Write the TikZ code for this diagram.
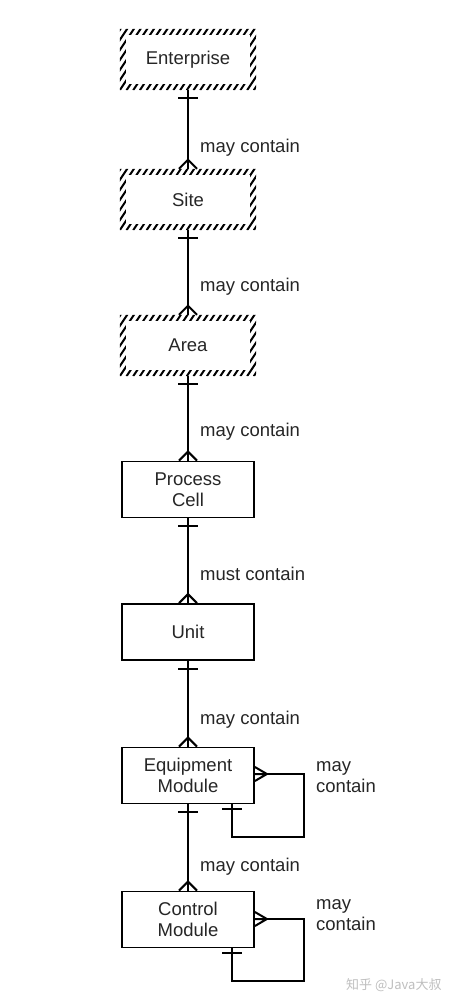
\documentclass[tikz,border=0pt]{standalone}
\usepackage{fontspec}
\setmainfont{Liberation Sans}
\newfontfamily\cjk{Noto Sans CJK SC}
\usetikzlibrary{calc}
\begin{document}
\begin{tikzpicture}[x=1pt,y=1pt,
  every node/.style={font=\fontsize{18.5}{20.5}\selectfont, text=black!85},
  hatchbox/.style={minimum width=136pt, minimum height=61pt, inner sep=0pt, align=center},
  plainbox/.style={draw, line width=1.8pt, minimum width=132pt, minimum height=56pt, inner sep=0pt, align=center},
  conn/.style={line width=2pt},
  lbl/.style={anchor=west, inner sep=0pt, align=left}
]
\newcommand\hatchborder[1]{%
  \begin{scope}[even odd rule]
    \clip (#1.south west) rectangle (#1.north east)
      ([shift={(6pt,6pt)}]#1.south west) rectangle ([shift={(-6pt,-6pt)}]#1.north east);
    \foreach \i in {-8,...,22}
      \draw[line width=2pt] ([xshift=\i*6.7pt]#1.south west) -- ++(46pt,69pt);
  \end{scope}}
\newcommand\crowdown[1]{%
  \draw[conn] ([yshift=9pt]#1.north) -- ([xshift=-9pt]#1.north)
              ([yshift=9pt]#1.north) -- ([xshift=9pt]#1.north);}
\newcommand\barbelow[1]{%
  \draw[conn] ([shift={(-10pt,-8pt)}]#1.south) -- ++(20pt,0);}

\fill[white] (0,0) rectangle (453,-1006);
\useasboundingbox (0,0) rectangle (453,-1006);

% nodes
\node[hatchbox] (ent) at (188,-59.5) {Enterprise};
\node[hatchbox] (site) at (188,-199.5) {Site};
\node[hatchbox] (area) at (188,-345.5) {Area};
\node[plainbox] (cell) at (188,-489.5) {Process\\Cell};
\node[plainbox] (unit) at (188,-632) {Unit};
\node[plainbox] (equip) at (188,-775.5) {Equipment\\Module};
\node[plainbox] (ctrl) at (188,-919.5) {Control\\Module};

\hatchborder{ent}
\hatchborder{site}
\hatchborder{area}

% vertical connectors
\draw[conn] (ent.south) -- (site.north);
\draw[conn] (site.south) -- (area.north);
\draw[conn] (area.south) -- (cell.north);
\draw[conn] (cell.south) -- (unit.north);
\draw[conn] (unit.south) -- (equip.north);
\draw[conn] (equip.south) -- (ctrl.north);
\foreach \n in {ent,site,area,cell,unit,equip} {\barbelow{\n}}
\foreach \n in {site,area,cell,unit,equip,ctrl} {\crowdown{\n}}

% labels
\node[lbl] (l1) at (200,-148) {may contain};
\node[lbl] (l2) at (200,-287) {may contain};
\node[lbl] (l3) at (200,-432) {may contain};
\node[lbl] (l4) at (200,-574) {must contain};
\node[lbl] (l5) at (200,-720) {may contain};
\node[lbl] (l6) at (200,-867) {may contain};

% self loops
\coordinate (eqA) at (304,-774);
\coordinate (eqB) at (232,-837);
\draw[conn] ([shift={(12pt,1.5pt)}]equip.east) -- (eqA) |- (eqB) -- (eqB |- equip.south);
\draw[conn] ([shift={(12pt,1.5pt)}]equip.east) -- ([yshift=8.5pt]equip.east)
            ([shift={(12pt,1.5pt)}]equip.east) -- ([yshift=-5.5pt]equip.east)
            ([shift={(12pt,1.5pt)}]equip.east) -- ([yshift=1.5pt]equip.east);
\draw[conn] ([shift={(-10pt,-5pt)}]eqB |- equip.south) -- ++(20pt,0);
\node[lbl] (l7) at (316,-777) {may\\contain};

\coordinate (ctA) at (304,-919);
\coordinate (ctB) at (232,-981);
\draw[conn] ([shift={(12pt,0.5pt)}]ctrl.east) -- (ctA) |- (ctB) -- (ctB |- ctrl.south);
\draw[conn] ([shift={(12pt,0.5pt)}]ctrl.east) -- ([yshift=7.5pt]ctrl.east)
            ([shift={(12pt,0.5pt)}]ctrl.east) -- ([yshift=-6.5pt]ctrl.east)
            ([shift={(12pt,0.5pt)}]ctrl.east) -- ([yshift=0.5pt]ctrl.east);
\draw[conn] ([shift={(-10pt,-5pt)}]ctB |- ctrl.south) -- ++(20pt,0);
\node[lbl] (l8) at (316,-915) {may\\contain};

% watermark
\node[anchor=west, inner sep=0pt, font=\fontsize{13}{15}\selectfont, text=black!25] (wm) at (346,-985) {\cjk 知乎 @Java大叔};
\end{tikzpicture}
\end{document}
